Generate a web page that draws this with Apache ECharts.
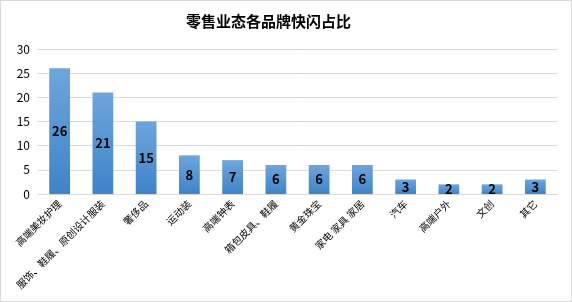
<!DOCTYPE html>
<html>
<head>
<meta charset="utf-8">
<script src="https://cdn.jsdelivr.net/npm/echarts@6/dist/echarts.min.js"></script>
<style>
  html, body { margin: 0; padding: 0; background: #fff; }
  #chart { width: 570px; height: 300px; border: 1px solid #d9d9d9; }
</style>
</head>
<body>
<div id="chart"></div>
<script>
const categories = [
  "高端美妆护理", "服饰、鞋履、原创设计服装", "奢侈品", "运动装", "高端钟表",
  "箱包皮具、鞋履", "黄金珠宝", "家电 家具 家居", "汽车", "高端户外", "文创", "其它"
];
const values = [26, 21, 15, 8, 7, 6, 6, 6, 3, 2, 2, 3];

const chart = echarts.init(document.getElementById("chart"));
chart.setOption({
  animation: false,
  title: {
    text: "零售业态各品牌快闪占比",
    left: 180,
    top: 8,
    textStyle: { fontSize: 15, fontWeight: "bold", color: "#000", fontFamily: "Noto Sans CJK SC" }
  },
  grid: { left: 37, right: 14, top: 48, bottom: 107 },
  xAxis: {
    type: "category",
    data: categories,
    axisLine: { lineStyle: { color: "#d9d9d9" } },
    axisTick: { alignWithLabel: false, lineStyle: { color: "#d9d9d9" } },
    axisLabel: {
      interval: 0,
      rotate: 45,
      fontSize: 10,
      color: "#000",
      fontFamily: "Noto Sans CJK SC",
      margin: 8
    }
  },
  yAxis: {
    type: "value",
    min: 0,
    max: 30,
    interval: 5,
    axisLine: { show: false },
    axisTick: { show: false },
    axisLabel: { fontSize: 12, color: "#000", fontFamily: "Noto Sans CJK SC" },
    splitLine: { lineStyle: { color: "#d9d9d9" } }
  },
  series: [{
    type: "bar",
    data: values,
    barWidth: "48%",
    itemStyle: {
      color: new echarts.graphic.LinearGradient(0, 0, 0, 1, [
        { offset: 0, color: "#6ea5dc" },
        { offset: 1, color: "#3e84c8" }
      ])
    },
    label: {
      show: true,
      position: "inside",
      fontSize: 13,
      fontWeight: "bold",
      color: "#000",
      fontFamily: "Noto Sans CJK SC"
    }
  }]
});
</script>
</body>
</html>
